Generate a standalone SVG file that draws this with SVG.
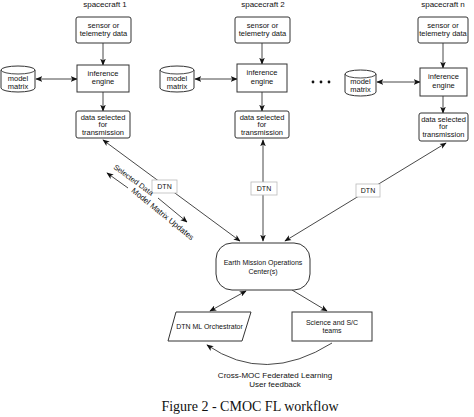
<svg xmlns="http://www.w3.org/2000/svg" width="474" height="417" viewBox="0 0 474 417">
<defs>
<marker id="ah" viewBox="0 0 10 8" refX="9" refY="4" markerWidth="7" markerHeight="6" markerUnits="userSpaceOnUse" orient="auto-start-reverse">
<path d="M0,0 L10,4 L0,8 L2.5,4 z" fill="#111"/>
</marker>
<style>
.box{fill:#fff;stroke:#333;stroke-width:1}
.lbl{fill:#fff;stroke:#bbb;stroke-width:0.8}
.t{font-family:"Liberation Sans",Arial,sans-serif;font-size:7px;fill:#111;text-anchor:middle}
.b{font-size:7.5px}
.title{font-family:"Liberation Sans",Arial,sans-serif;font-size:8px;fill:#111;text-anchor:middle}
.ln{stroke:#333;stroke-width:0.9;fill:none}
.e{marker-end:url(#ah)}
.s{marker-start:url(#ah)}
</style>
</defs>
<rect width="474" height="417" fill="#fff"/>

<g id="connectors">
<line class="ln e" x1="103" y1="43" x2="103" y2="65"/>
<line class="ln e" x1="103" y1="92" x2="103" y2="111"/>
<line class="ln e s" x1="36" y1="79" x2="77" y2="79"/>
<line class="ln e" x1="262" y1="43" x2="262" y2="64"/>
<line class="ln e" x1="262" y1="92" x2="262" y2="111"/>
<line class="ln e s" x1="195" y1="79" x2="237" y2="79"/>
<line class="ln e" x1="443" y1="43" x2="443" y2="68"/>
<line class="ln e" x1="443" y1="96" x2="443" y2="113"/>
<line class="ln e s" x1="377" y1="82" x2="420" y2="82"/>
<line class="ln e s" x1="103" y1="140" x2="240" y2="241"/>
<line class="ln e s" x1="263" y1="140" x2="263" y2="241"/>
<line class="ln e s" x1="446" y1="143" x2="285" y2="241"/>
<line class="ln e" x1="128" y1="188" x2="107" y2="173"/>
<line class="ln e" x1="158" y1="198" x2="187" y2="222"/>
<line class="ln e s" x1="246" y1="291" x2="210" y2="311"/>
<line class="ln e" x1="292" y1="290" x2="327" y2="311"/>
<path class="ln e" d="M332,343 Q265,385 207,345"/>
</g>

<g id="dtn1"><rect class="lbl" x="152" y="180" width="25" height="13"/><text class="t" x="164.5" y="189">DTN</text></g>
<g id="dtn2"><rect class="lbl" x="251" y="182" width="26" height="13"/><text class="t" x="264" y="191">DTN</text></g>
<g id="dtn3"><rect class="lbl" x="356" y="184" width="24" height="13"/><text class="t" x="368" y="193">DTN</text></g>

<g id="sc1">
<text class="title" x="105" y="7">spacecraft 1</text>
<g id="sensor1"><rect class="box" x="76" y="17" width="55" height="26" rx="2"/><text class="t b" x="103.5" y="28">sensor or</text><text class="t b" x="103.5" y="36">telemetry data</text></g>
<g id="inference1"><rect class="box" x="77" y="65" width="52" height="27"/><text class="t b" x="103" y="75.5">inference</text><text class="t b" x="103" y="84">engine</text></g>
<g id="data1"><rect class="box" x="76" y="111" width="54" height="27" rx="2"/><text class="t b" x="103" y="119.5">data selected</text><text class="t b" x="103" y="127">for</text><text class="t b" x="103" y="134.5">transmission</text></g>
<g id="model1"><path class="box" d="M1,70 A17,4 0 0 1 35,70 L35,88 A17,4 0 0 1 1,88 Z"/><path class="ln" d="M1,70 A17,4 0 0 0 35,70"/><text class="t b" x="18" y="80.5">model</text><text class="t b" x="18" y="88.5">matrix</text></g>
</g>

<g id="sc2">
<text class="title" x="263" y="7">spacecraft 2</text>
<g id="sensor2"><rect class="box" x="235" y="17" width="55" height="26" rx="2"/><text class="t b" x="262.5" y="28">sensor or</text><text class="t b" x="262.5" y="36">telemetry data</text></g>
<g id="inference2"><rect class="box" x="237" y="64" width="50" height="28"/><text class="t b" x="262" y="75">inference</text><text class="t b" x="262" y="83.5">engine</text></g>
<g id="data2"><rect class="box" x="235" y="111" width="54" height="27" rx="2"/><text class="t b" x="262" y="119.5">data selected</text><text class="t b" x="262" y="127">for</text><text class="t b" x="262" y="134.5">transmission</text></g>
<g id="model2"><path class="box" d="M160,70 A17,4 0 0 1 194,70 L194,88 A17,4 0 0 1 160,88 Z"/><path class="ln" d="M160,70 A17,4 0 0 0 194,70"/><text class="t b" x="177" y="80.5">model</text><text class="t b" x="177" y="88.5">matrix</text></g>
</g>

<g id="dots"><circle cx="313" cy="82" r="1.4" fill="#111"/><circle cx="321" cy="82" r="1.4" fill="#111"/><circle cx="329" cy="82" r="1.4" fill="#111"/></g>

<g id="scn">
<text class="title" x="443" y="7">spacecraft n</text>
<g id="sensorn"><rect class="box" x="418" y="17" width="50" height="26" rx="2"/><text class="t b" x="443" y="28">sensor or</text><text class="t b" x="443" y="36">telemetry data</text></g>
<g id="inferencen"><rect class="box" x="420" y="68" width="47" height="28"/><text class="t b" x="443.5" y="79">inference</text><text class="t b" x="443.5" y="87.5">engine</text></g>
<g id="datan"><rect class="box" x="419" y="113" width="49" height="28" rx="2"/><text class="t b" x="443.5" y="121.5">data selected</text><text class="t b" x="443.5" y="129">for</text><text class="t b" x="443.5" y="136.5">transmission</text></g>
<g id="modeln"><path class="box" d="M345,74 A15.5,4 0 0 1 376,74 L376,92 A15.5,4 0 0 1 345,92 Z"/><path class="ln" d="M345,74 A15.5,4 0 0 0 376,74"/><text class="t b" x="360.5" y="84">model</text><text class="t b" x="360.5" y="92">matrix</text></g>
</g>

<g id="flowlabels">
<text class="t" style="font-size:7.5px" transform="translate(132,182) rotate(36)">Selected Data</text>
<text class="t" style="font-size:8px" transform="translate(161,216) rotate(39)">Model Matrix Updates</text>
</g>

<g id="emoc"><rect class="box" x="216" y="243" width="94" height="47" rx="16"/><text class="t" x="263" y="265">Earth Mission Operations</text><text class="t" x="263" y="274">Center(s)</text></g>
<g id="orchestrator"><path class="box" d="M176,312 L251,312 L242,341 L168,341 Z"/><text class="t" x="209.5" y="329">DTN ML Orchestrator</text></g>
<g id="science"><rect class="box" x="292" y="312" width="80" height="29"/><text class="t" x="332" y="324.5">Science and S/C</text><text class="t" x="332" y="333">teams</text></g>

<g id="feedback"><text class="t" style="font-size:8px" x="275" y="378">Cross-MOC Federated Learning</text><text class="t" style="font-size:8px" x="275" y="387">User feedback</text></g>

<text x="250" y="411" style="font-family:'Liberation Serif','Times New Roman',serif;font-size:14px;fill:#111;text-anchor:middle">Figure 2 - CMOC FL workflow</text>
</svg>
